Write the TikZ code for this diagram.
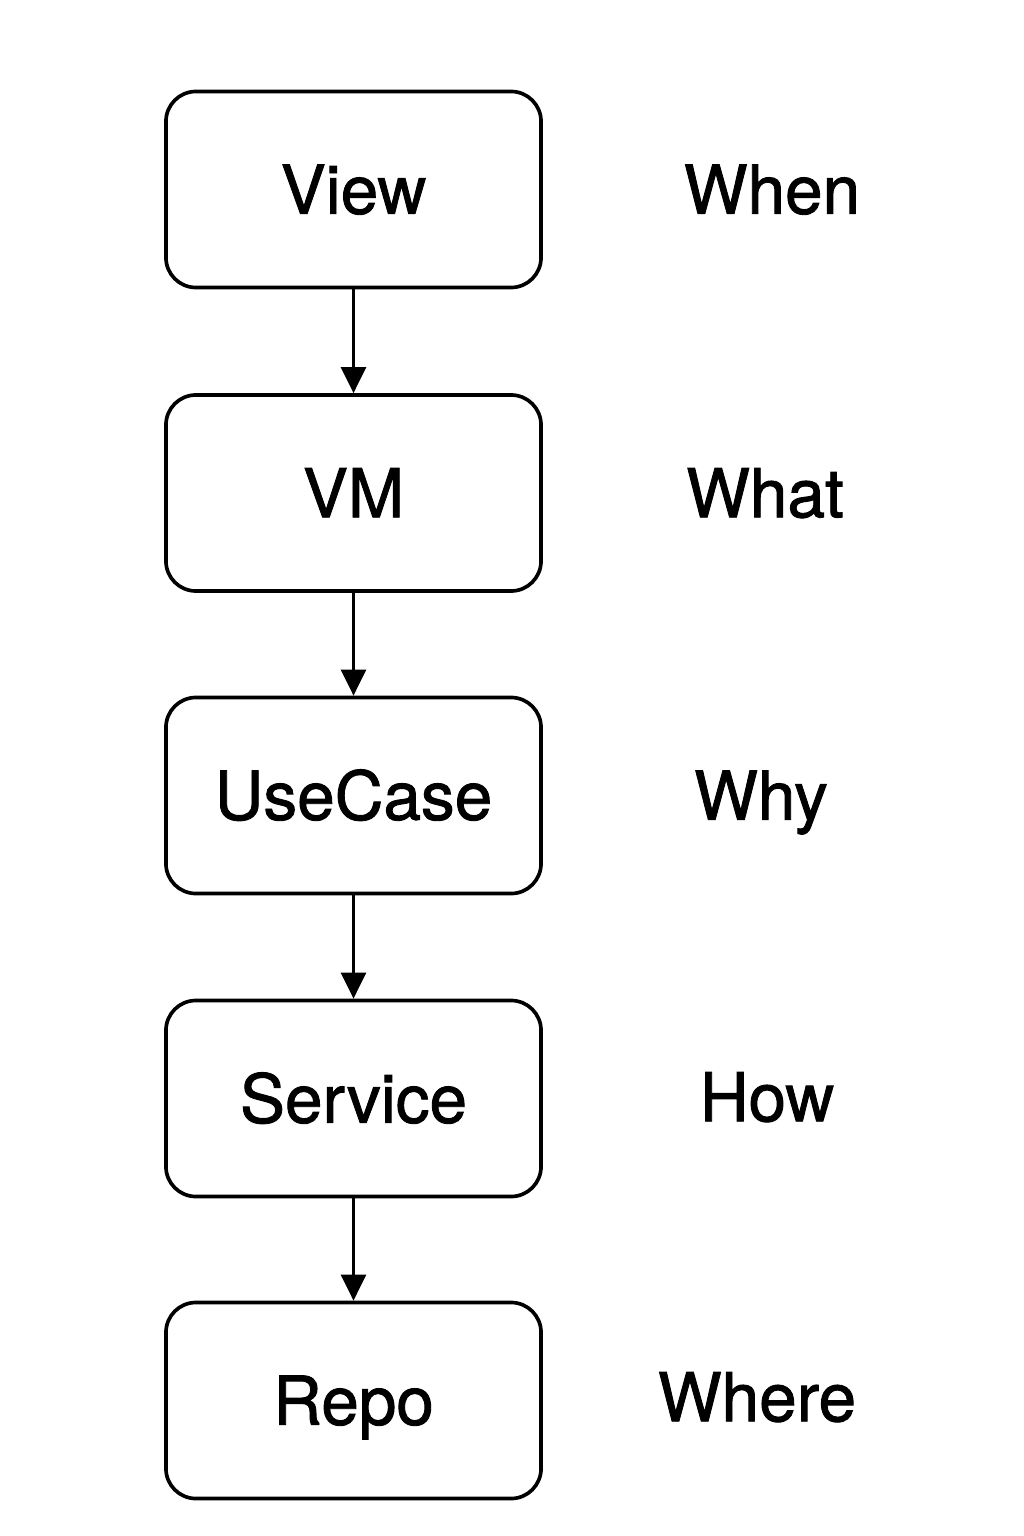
\documentclass[tikz,border=0pt]{standalone}
\usepackage{fontspec}
\setmainfont{TeX Gyre Heros}
\newfontfamily\medfont{TeX Gyre Heros}[FakeBold=1.3]
\usetikzlibrary{arrows.meta}
\begin{document}
\begin{tikzpicture}[x=0.025cm,y=-0.025cm,
  box/.style={draw=black, line width=2.6pt, rounded corners=0.75cm,
    minimum width=9.375cm, minimum height=4.9cm, inner sep=0pt,
    font=\medfont\fontsize{48}{56}\selectfont, text height=34.5pt, text depth=0pt},
  lbl/.style={inner sep=0pt, font=\medfont\fontsize{48}{56}\selectfont,
    text height=34.5pt, text depth=0pt},
  arr/.style={line width=2.3pt, -{Triangle[length=0.65cm, width=0.62cm]}}]
\useasboundingbox (0,0) rectangle (1024,1536);
\node[box] (view) at (353.5,189.5) {View};
\node[box] (vm) at (353.5,493) {VM};
\node[box] (usecase) at (353.5,795.5) {UseCase};
\node[box] (service) at (353.5,1098.5) {Service};
\node[box] (repo) at (353.5,1400.5) {Repo};
\draw[arr] (view) -- (vm);
\draw[arr] (vm) -- (usecase);
\draw[arr] (usecase) -- (service);
\draw[arr] (service) -- (repo);
\node[lbl] (when) at (772,189.5) {When};
\node[lbl] (what) at (765,493) {What};
\node[lbl] (why) at (761,795.5) {Why};
\node[lbl] (how) at (767,1097) {How};
\node[lbl] (where) at (757,1397) {Where};
\end{tikzpicture}
\end{document}
